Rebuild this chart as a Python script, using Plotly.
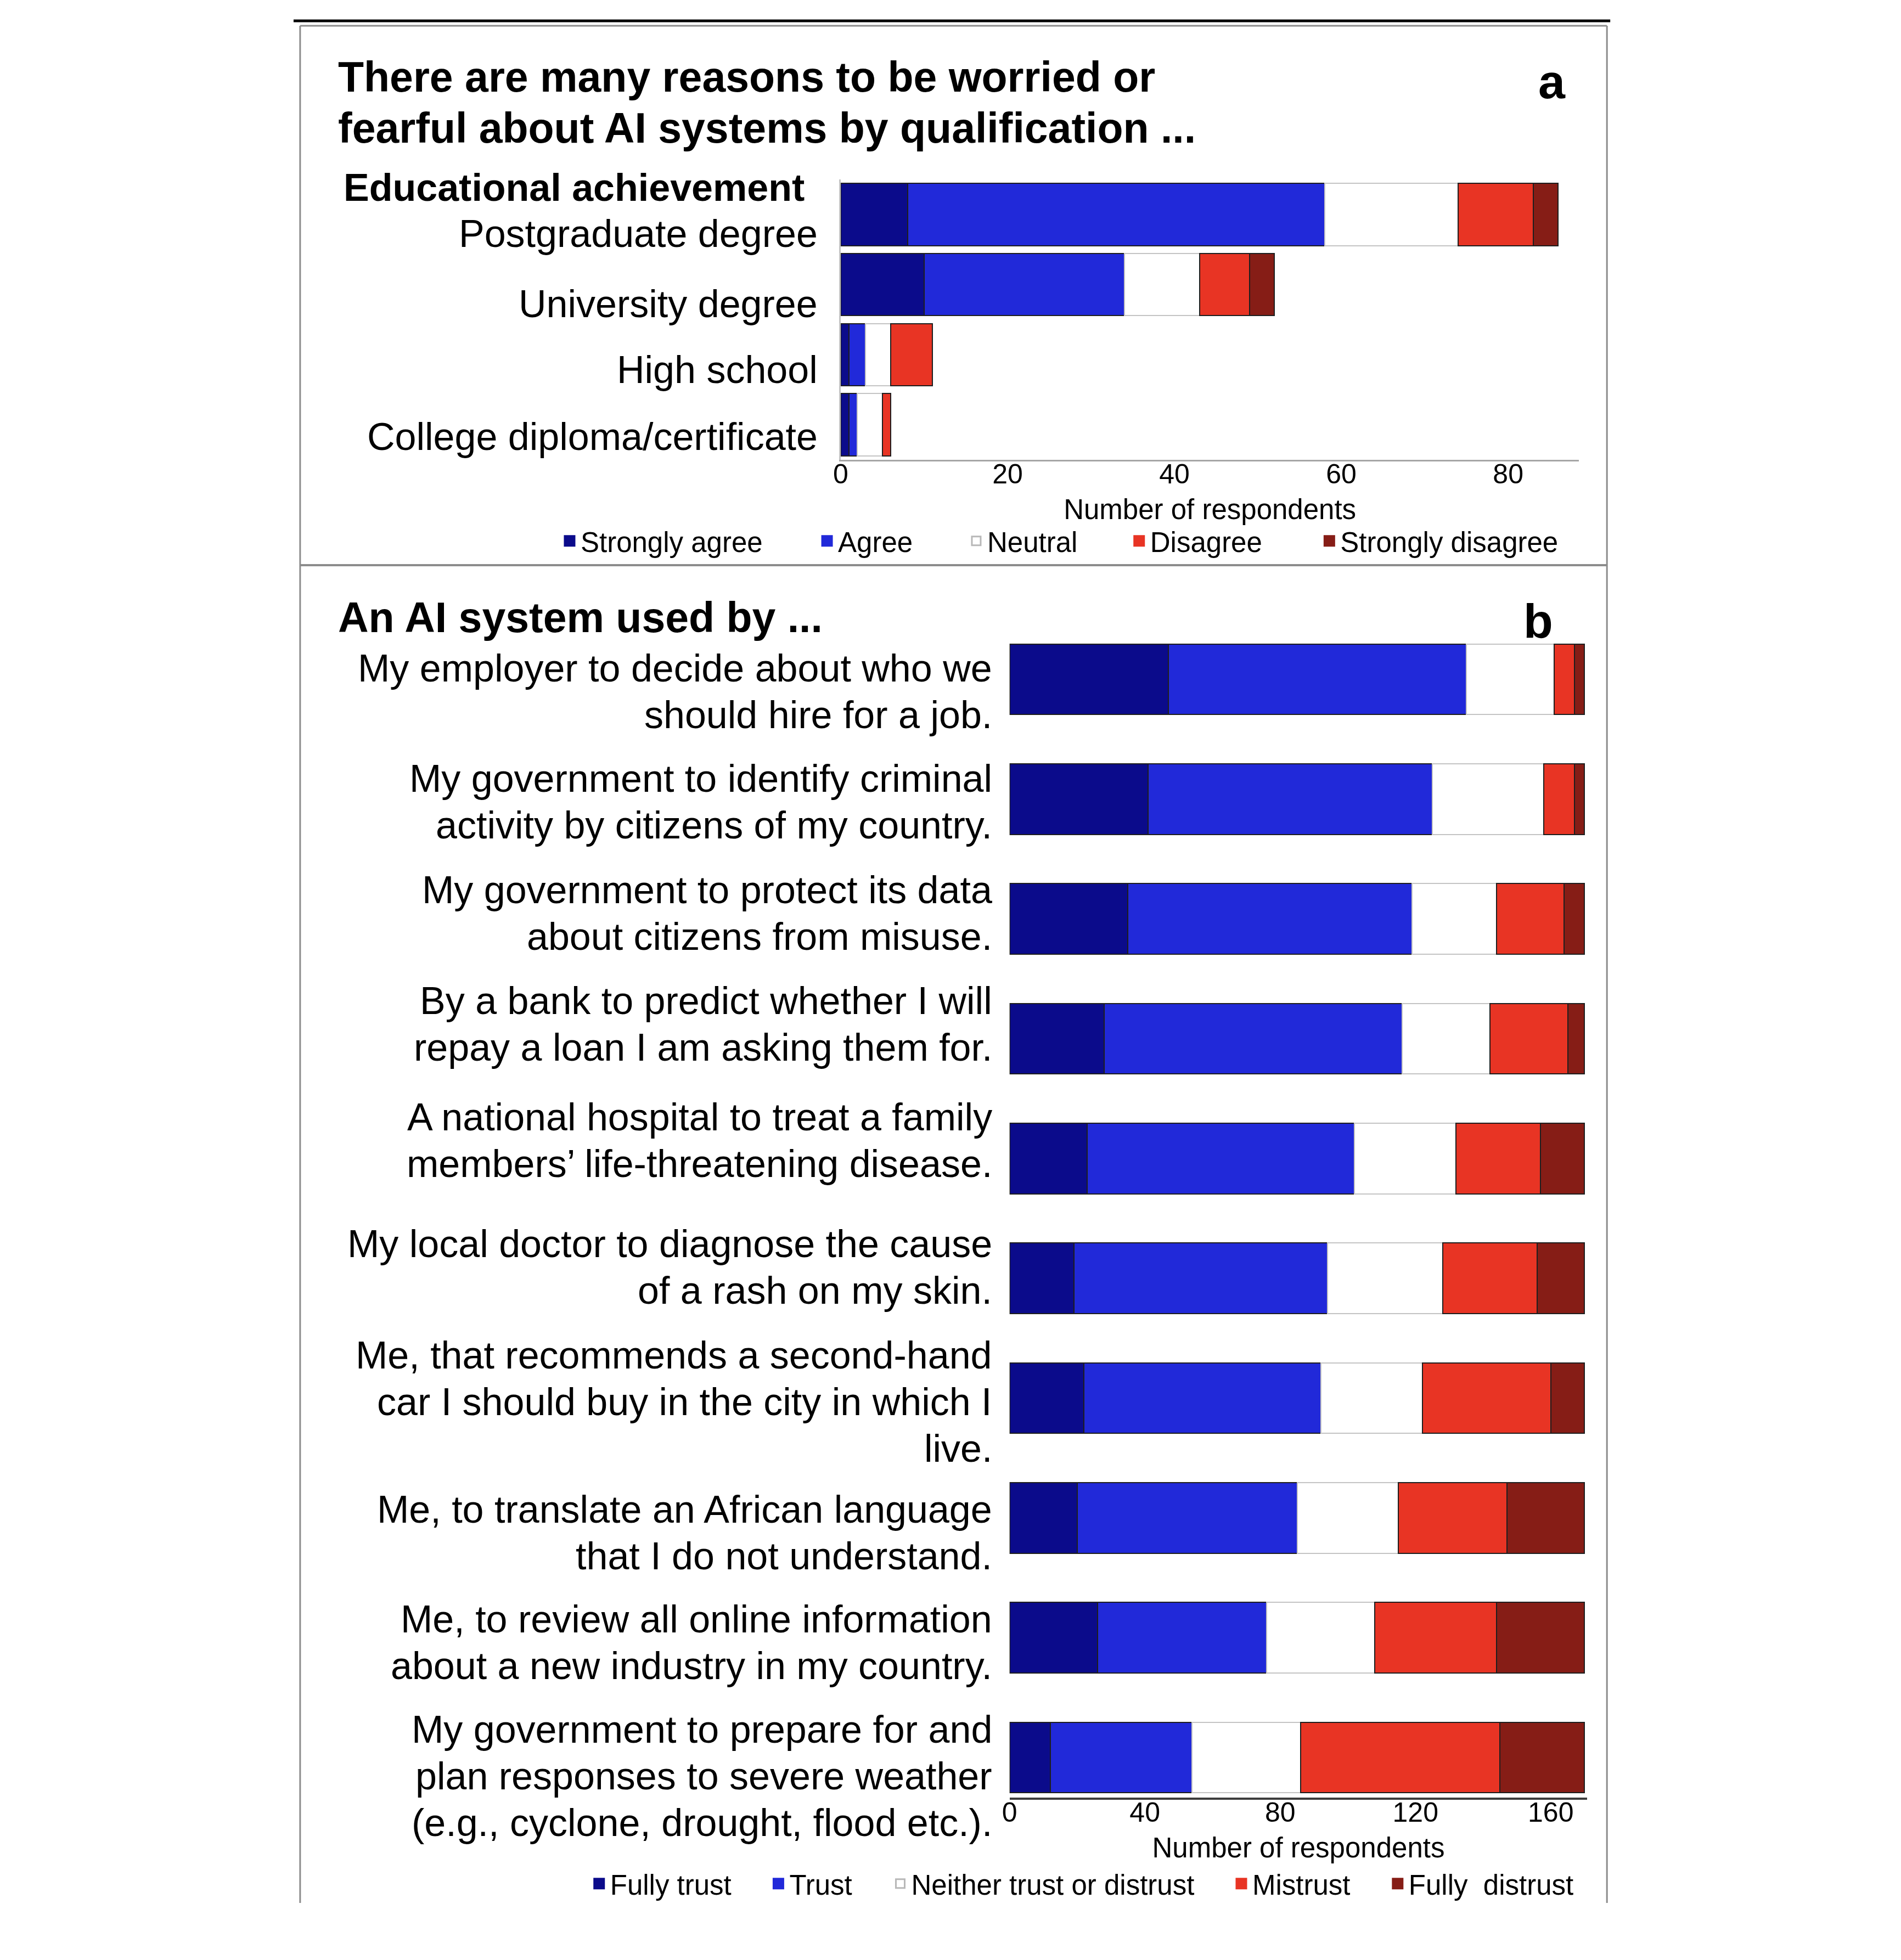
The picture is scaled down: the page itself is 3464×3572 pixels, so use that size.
import plotly.graph_objects as go

W, H = 3464, 3572
OFF = 8  # page body margin compensation


def px(x):
    return (x - OFF) / W


def py(y):
    return 1 - (y - OFF) / H


# ---------------- Panel a data ----------------
edu_levels = ["Postgraduate degree", "University degree", "High school",
              "College diploma/certificate"]
agree_labels = ["Strongly agree", "Agree", "Neutral", "Disagree", "Strongly disagree"]
strongly_agree = [8, 10, 1, 1]
agree = [50, 24, 2, 1]
neutral = [16, 9, 3, 3]
disagree = [9, 6, 5, 1]
strongly_disagree = [3, 3, 0, 0]
ticks_a = [0, 20, 40, 60, 80]

# ---------------- Panel b data ----------------
uses = [
    "My employer to decide about who we<br>should hire for a job.",
    "My government to identify criminal<br>activity by citizens of my country.",
    "My government to protect its data<br>about citizens from misuse.",
    "By a bank to predict whether I will<br>repay a loan I am asking them for.",
    "A national hospital to treat a family<br>members’ life-threatening disease.",
    "My local doctor to diagnose the cause<br>of a rash on my skin.",
    "Me, that recommends a second-hand<br>car I should buy in the city in which I<br>live.",
    "Me, to translate an African language<br>that I do not understand.",
    "Me, to review all online information<br>about a new industry in my country.",
    "My government to prepare for and<br>plan responses to severe weather<br>(e.g., cyclone, drought, flood etc.).",
]
trust_labels = ["Fully trust", "Trust", "Neither trust or distrust", "Mistrust",
                "Fully  distrust"]
fully_trust = [47, 41, 35, 28, 23, 19, 22, 20, 26, 12]
trust = [88, 84, 84, 88, 79, 75, 70, 65, 50, 42]
neither = [26, 33, 25, 26, 30, 34, 30, 30, 32, 32]
mistrust = [6, 9, 20, 23, 25, 28, 38, 32, 36, 59]
fully_distrust = [3, 3, 6, 5, 13, 14, 10, 23, 26, 25]
ticks_b = [0, 40, 80, 120, 160]

# ---------------- styling ----------------
FONT = "Liberation Sans, Arial, Helvetica, sans-serif"
colors = ["#0b0b8b", "#2129d9", "#ffffff", "#e83424", "#861d16"]
edges = ["#1e1e1e", "#1e1e1e", "#c4c4c4", "#1e1e1e", "#1e1e1e"]
legend_edges = ["#0b0b8b", "#2129d9", "#b8b8b8", "#e83424", "#861d16"]
legend_edge_w = [5, 5, 3, 5, 5]
# vertical nudges (px, +down) of the category labels, as in the original layout
label_nudge_a = [35, 35, 28, 22]
label_nudge_b = [22, 5, -10, -27, -33, -20, 7, 27, 9, 34]
label_line_gap = 85

fig = go.Figure()

series_a = [strongly_agree, agree, neutral, disagree, strongly_disagree]
series_b = [fully_trust, trust, neither, mistrust, fully_distrust]

for i, (name, vals) in enumerate(zip(agree_labels, series_a)):
    fig.add_trace(go.Bar(
        y=edu_levels, x=vals, orientation="h", name=name, showlegend=False,
        marker=dict(color=colors[i], line=dict(color=edges[i], width=2)),
        width=0.89, xaxis="x", yaxis="y",
    ))
for i, (name, vals) in enumerate(zip(trust_labels, series_b)):
    fig.add_trace(go.Bar(
        y=uses, x=vals, orientation="h", name=name, showlegend=False,
        marker=dict(color=colors[i], line=dict(color=edges[i], width=2)),
        width=0.59, xaxis="x2", yaxis="y2",
    ))

# legend keys (legend-only entries, one legend per key to reproduce spacing)
for i, name in enumerate(agree_labels + trust_labels):
    k = i % 5
    fig.add_trace(go.Scatter(
        x=[None], y=[None], mode="markers", name=name,
        xaxis="x" if i < 5 else "x2", yaxis="y" if i < 5 else "y2",
        marker=dict(symbol="square", size=16, color=colors[k],
                    line=dict(color=legend_edges[k], width=legend_edge_w[k])),
        legend="legend" if i == 0 else f"legend{i + 1}", showlegend=True,
    ))

legend_text_x = [1055, 1526, 1799, 2097, 2445, 1109, 1437, 1660, 2284, 2570]
legends = {}
for i, tx in enumerate(legend_text_x):
    key = "legend" if i == 0 else f"legend{i + 1}"
    ly = 986 if i < 5 else 3433
    legends[key] = dict(
        x=px(tx - 47), y=py(ly), xanchor="left", yanchor="middle",
        orientation="h", font=dict(size=51, color="black", family=FONT),
        bgcolor="rgba(0,0,0,0)", borderwidth=0,
    )

line_gray = "#8c8c8c"


def hline(x0, x1, y, color, w):
    return dict(type="line", xref="paper", yref="paper", x0=px(x0), x1=px(x1),
                y0=py(y), y1=py(y), line=dict(color=color, width=w))


def vline(x, y0, y1, color, w):
    return dict(type="line", xref="paper", yref="paper", x0=px(x), x1=px(x),
                y0=py(y0), y1=py(y1), line=dict(color=color, width=w))


shapes = [
    hline(523, 2932, 38, "black", 5),
    hline(535, 2926, 47, line_gray, 3),
    vline(535, 47, 3468, line_gray, 3),
    vline(2926, 47, 3468, line_gray, 3),
    hline(535, 2926, 1030, line_gray, 4),
]


def ann(text, x, y, size, xanchor="left", bold=True):
    return dict(text=f"<b>{text}</b>" if bold else text, x=px(x), y=py(y),
                xref="paper", yref="paper", xanchor=xanchor, yanchor="middle",
                showarrow=False, font=dict(size=size, color="black", family=FONT))


annotations = [
    ann("There are many reasons to be worried or", 602, 140, 77),
    ann("fearful about AI systems by qualification ...", 602, 233, 77),
    ann("a", 2825, 148, 88, xanchor="center"),
    ann("Educational achievement", 612, 342, 70),
    ann("An AI system used by ...", 602, 1125, 77),
    ann("b", 2800, 1132, 88, xanchor="center"),
]


def category_labels(cats, nudges, yref, xright):
    out = []
    for cat, nudge in zip(cats, nudges):
        lines = cat.split("<br>")
        n = len(lines)
        for j, line in enumerate(lines):
            dy = nudge + (j - (n - 1) / 2) * label_line_gap
            out.append(dict(
                text=line, x=px(xright), xref="paper", y=cat, yref=yref,
                xanchor="right", yanchor="middle", yshift=-dy, showarrow=False,
                font=dict(size=70, color="black", family=FONT)))
    return out


annotations += category_labels(edu_levels, label_nudge_a, "y", 1484)
annotations += category_labels(uses, label_nudge_b, "y2", 1803)

axis_common = dict(showgrid=False, zeroline=False, ticks="",
                   tickfont=dict(size=50, color="black", family=FONT),
                   ticklabelstandoff=-20)

fig.update_layout(
    width=W, height=H, margin=dict(l=0, r=0, t=0, b=0),
    paper_bgcolor="white", plot_bgcolor="white", showlegend=True,
    barmode="stack", font=dict(family=FONT, color="black"),
    xaxis=dict(domain=[px(1524), px(2875)], range=[0, 88.5], anchor="y",
               showline=True, linecolor="#a6a6a6", linewidth=3,
               tickvals=ticks_a,
               title=dict(text="Number of respondents",
                          font=dict(size=51, color="black", family=FONT), standoff=20),
               **axis_common),
    yaxis=dict(domain=[py(838), py(327)], anchor="x", type="category",
               categoryorder="array", categoryarray=edu_levels,
               range=[3.5, -0.5], showline=True, linecolor="#c4c4c4", linewidth=3,
               showticklabels=False, showgrid=False, zeroline=False, ticks="",
               automargin=False),
    xaxis2=dict(domain=[px(1833), px(2890)], range=[0, 170.8], anchor="y2",
                showline=True, linecolor="#3c3c3c", linewidth=4,
                tickvals=ticks_b,
                title=dict(text="Number of respondents",
                           font=dict(size=51, color="black", family=FONT), standoff=20),
                **axis_common),
    yaxis2=dict(domain=[py(3276), py(1107)], anchor="x2", type="category",
                categoryorder="array", categoryarray=uses,
                range=[9.334, -0.6], showline=False, showticklabels=False,
                showgrid=False, zeroline=False, ticks="", automargin=False),
    shapes=shapes,
    annotations=annotations,
    **legends,
)

fig.write_html("out.html")
